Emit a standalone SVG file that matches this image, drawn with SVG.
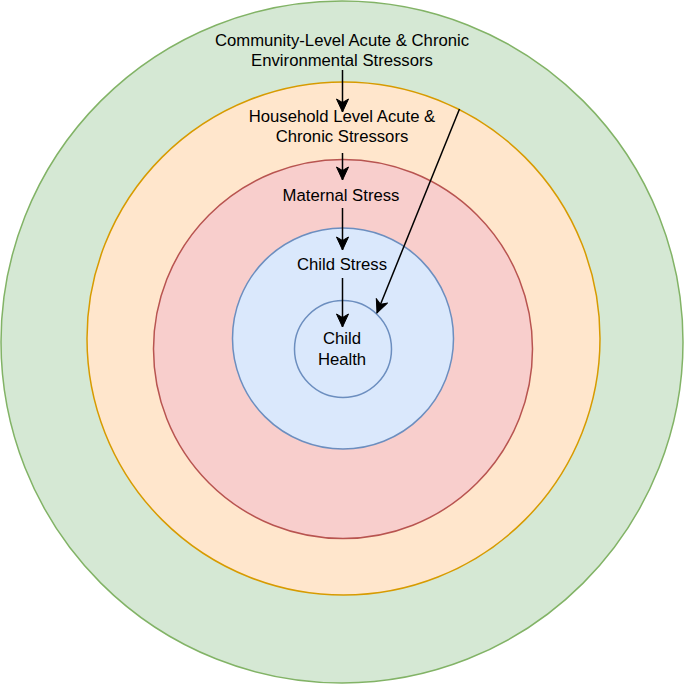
<svg xmlns="http://www.w3.org/2000/svg" width="685" height="685" viewBox="0 0 685 685">
<defs>
<style>
.lbl{font-family:"Liberation Sans",Arial,Helvetica,sans-serif;font-size:16.7px;fill:#000;text-anchor:middle}
.c{stroke-width:1.5}
.edge{stroke:#000;stroke-width:1.5;fill:none}
</style>
<marker id="arr" markerUnits="userSpaceOnUse" viewBox="-14 -7 16 14" refX="0" refY="0" markerWidth="16" markerHeight="14" orient="auto">
<path d="M0,0 L-13,-6 L-9.5,0 L-13,6 Z" fill="#000" stroke="#000" stroke-width="1"/>
</marker>
</defs>
<rect width="685" height="685" fill="#fff"/>
<g id="community">
<circle class="c" cx="342" cy="342" r="341" fill="#d5e8d4" stroke="#82b366"/>
<text class="lbl" x="342" y="46">Community-Level Acute &amp; Chronic</text>
<text class="lbl" x="342" y="66">Environmental Stressors</text>
</g>
<g id="household">
<circle class="c" cx="343.5" cy="338.5" r="256.5" fill="#ffe6cc" stroke="#d79b00"/>
<text class="lbl" x="342" y="122">Household Level Acute &amp;</text>
<text class="lbl" x="342" y="142">Chronic Stressors</text>
</g>
<g id="maternal">
<circle class="c" cx="343" cy="349" r="189.5" fill="#f8cecc" stroke="#b85450"/>
<text class="lbl" x="341" y="201">Maternal Stress</text>
</g>
<g id="childstress">
<circle class="c" cx="343" cy="338.5" r="110.5" fill="#dae8fc" stroke="#6c8ebf"/>
<text class="lbl" x="342" y="270">Child Stress</text>
</g>
<g id="childhealth">
<circle class="c" cx="343" cy="349" r="48.5" fill="#dae8fc" stroke="#6c8ebf"/>
<text class="lbl" x="342" y="344">Child</text>
<text class="lbl" x="342" y="365">Health</text>
</g>
<g id="connectors">
<line class="edge" x1="342.5" y1="70" x2="342.5" y2="112" marker-end="url(#arr)"/>
<line class="edge" x1="342.5" y1="153" x2="342.5" y2="180" marker-end="url(#arr)"/>
<line class="edge" x1="342.5" y1="208" x2="342.5" y2="250" marker-end="url(#arr)"/>
<line class="edge" x1="342.5" y1="278" x2="342.5" y2="327" marker-end="url(#arr)"/>
<line class="edge" x1="459.5" y1="109" x2="377" y2="313" marker-end="url(#arr)"/>
</g>
</svg>
